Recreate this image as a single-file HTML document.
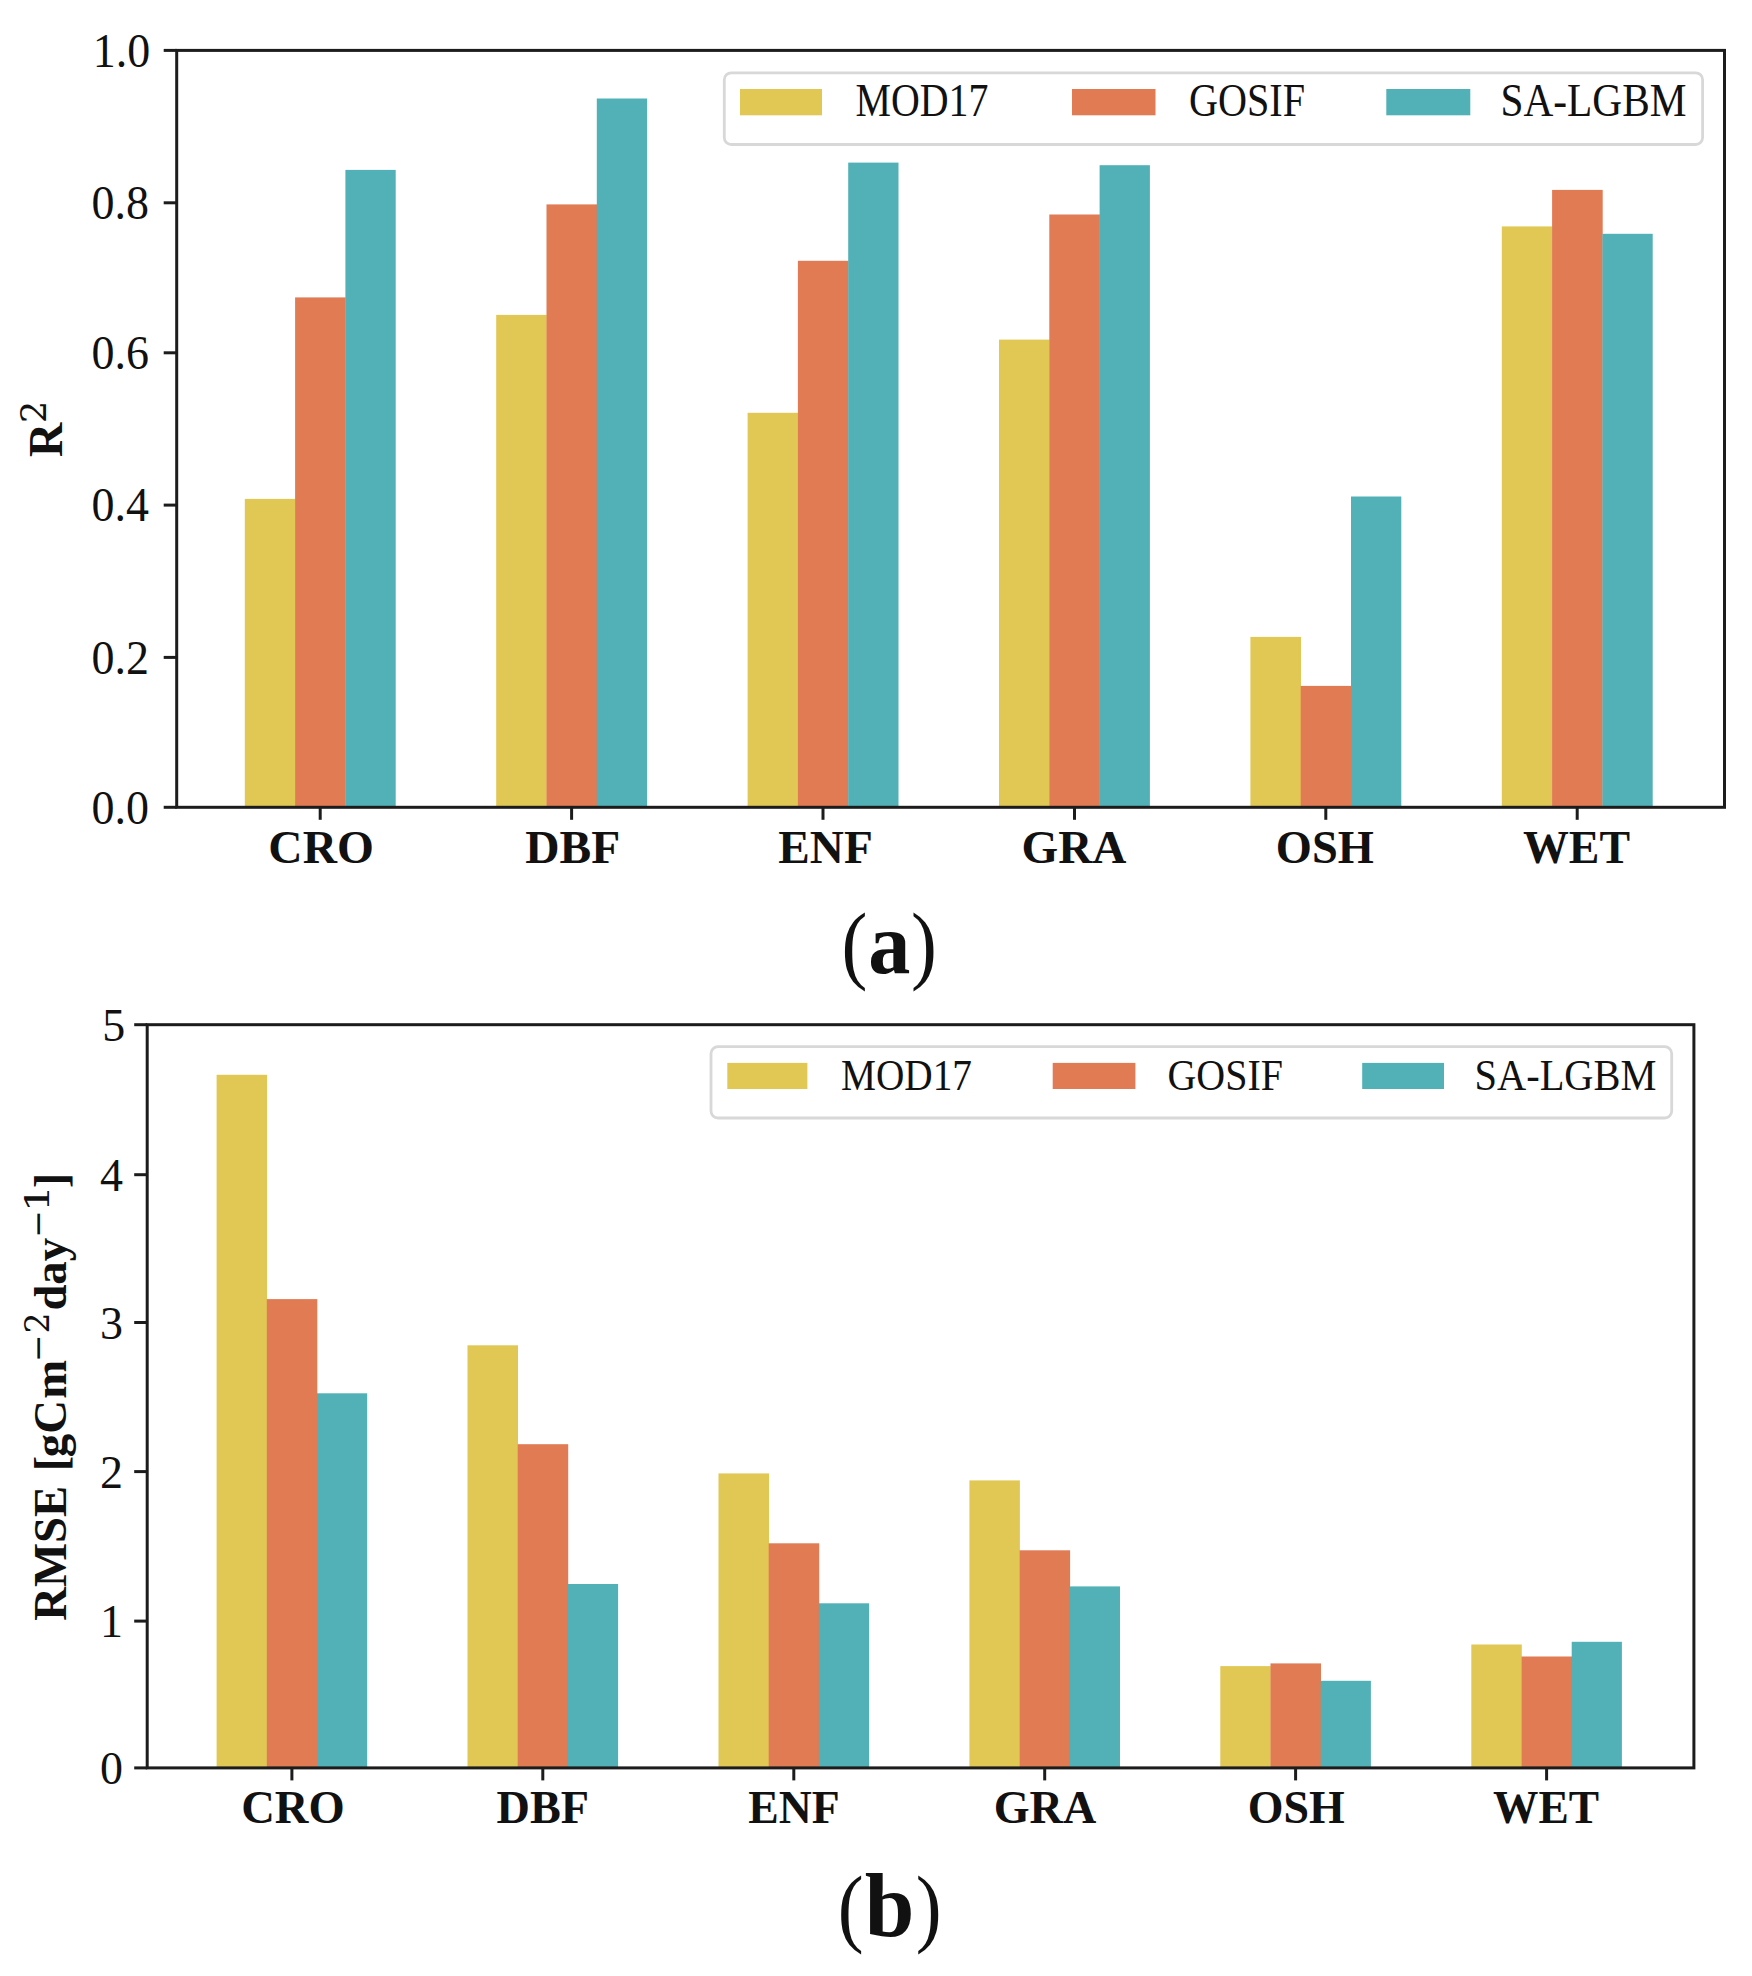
<!DOCTYPE html>
<html lang="en"><head><meta charset="utf-8"><title>Model comparison by vegetation type</title>
<style>
html,body{margin:0;padding:0;background:#fff}
body{width:1752px;height:1976px;overflow:hidden}
svg{display:block}
text{font-family:"Liberation Serif","Times New Roman",Times,serif;fill:#111}
.tk{font-size:47.5px}
.bl{font-size:46.5px;font-weight:bold}
.lg{font-size:41px}
.ln{stroke:#1c1c1c;stroke-width:3;fill:none;stroke-linecap:butt}
</style></head><body>
<svg width="1752" height="1976" viewBox="0 0 1752 1976">
<rect x="0" y="0" width="1752" height="1976" fill="#fff"/>

<rect x="244.8" y="498.9" width="50.6" height="308.4" fill="#e1c855"/>
<rect x="295.1" y="297.4" width="50.6" height="509.9" fill="#e07b54"/>
<rect x="345.4" y="169.9" width="50.3" height="637.4" fill="#51b1b7"/>
<rect x="496.2" y="314.9" width="50.6" height="492.4" fill="#e1c855"/>
<rect x="546.5" y="204.4" width="50.6" height="602.9" fill="#e07b54"/>
<rect x="596.8" y="98.5" width="50.3" height="708.8" fill="#51b1b7"/>
<rect x="747.6" y="412.8" width="50.6" height="394.5" fill="#e1c855"/>
<rect x="797.9" y="260.8" width="50.6" height="546.5" fill="#e07b54"/>
<rect x="848.2" y="162.6" width="50.3" height="644.7" fill="#51b1b7"/>
<rect x="999.0" y="339.6" width="50.6" height="467.7" fill="#e1c855"/>
<rect x="1049.3" y="214.5" width="50.6" height="592.8" fill="#e07b54"/>
<rect x="1099.6" y="165.2" width="50.3" height="642.1" fill="#51b1b7"/>
<rect x="1250.4" y="636.9" width="50.6" height="170.4" fill="#e1c855"/>
<rect x="1300.7" y="685.9" width="50.6" height="121.4" fill="#e07b54"/>
<rect x="1351.0" y="496.5" width="50.3" height="310.8" fill="#51b1b7"/>
<rect x="1501.8" y="226.4" width="50.6" height="580.9" fill="#e1c855"/>
<rect x="1552.1" y="189.9" width="50.6" height="617.4" fill="#e07b54"/>
<rect x="1602.4" y="233.8" width="50.3" height="573.5" fill="#51b1b7"/>
<rect class="ln" x="176.7" y="50.4" width="1547.8" height="756.9"/>
<line class="ln" x1="163.7" y1="807.3" x2="176.7" y2="807.3"/>
<text style="font-size:48.3px" text-anchor="end" x="149.1" y="823.6" textLength="57.5" lengthAdjust="spacingAndGlyphs">0.0</text>
<line class="ln" x1="163.7" y1="657.4" x2="176.7" y2="657.4"/>
<text style="font-size:48.3px" text-anchor="end" x="149.1" y="673.7" textLength="57.5" lengthAdjust="spacingAndGlyphs">0.2</text>
<line class="ln" x1="163.7" y1="505.1" x2="176.7" y2="505.1"/>
<text style="font-size:48.3px" text-anchor="end" x="149.1" y="521.4" textLength="57.5" lengthAdjust="spacingAndGlyphs">0.4</text>
<line class="ln" x1="163.7" y1="352.8" x2="176.7" y2="352.8"/>
<text style="font-size:48.3px" text-anchor="end" x="149.1" y="369.1" textLength="57.5" lengthAdjust="spacingAndGlyphs">0.6</text>
<line class="ln" x1="163.7" y1="202.8" x2="176.7" y2="202.8"/>
<text style="font-size:48.3px" text-anchor="end" x="149.1" y="219.1" textLength="57.5" lengthAdjust="spacingAndGlyphs">0.8</text>
<line class="ln" x1="163.7" y1="50.4" x2="176.7" y2="50.4"/>
<text style="font-size:48.3px" text-anchor="end" x="150.3" y="66.7" textLength="57.5" lengthAdjust="spacingAndGlyphs">1.0</text>
<line class="ln" x1="320.2" y1="807.3" x2="320.2" y2="819.8"/>
<text class="bl" text-anchor="middle" x="321.1" y="863.2" textLength="105.5" lengthAdjust="spacingAndGlyphs">CRO</text>
<line class="ln" x1="571.6" y1="807.3" x2="571.6" y2="819.8"/>
<text class="bl" text-anchor="middle" x="572.8" y="863.2" textLength="95.0" lengthAdjust="spacingAndGlyphs">DBF</text>
<line class="ln" x1="823.0" y1="807.3" x2="823.0" y2="819.8"/>
<text class="bl" text-anchor="middle" x="825.6" y="863.2" textLength="94.5" lengthAdjust="spacingAndGlyphs">ENF</text>
<line class="ln" x1="1074.5" y1="807.3" x2="1074.5" y2="819.8"/>
<text class="bl" text-anchor="middle" x="1073.9" y="863.2" textLength="105.0" lengthAdjust="spacingAndGlyphs">GRA</text>
<line class="ln" x1="1325.8" y1="807.3" x2="1325.8" y2="819.8"/>
<text class="bl" text-anchor="middle" x="1324.8" y="863.2" textLength="98.0" lengthAdjust="spacingAndGlyphs">OSH</text>
<line class="ln" x1="1577.2" y1="807.3" x2="1577.2" y2="819.8"/>
<text class="bl" text-anchor="middle" x="1576.5" y="863.2" textLength="107.0" lengthAdjust="spacingAndGlyphs">WET</text>
<rect x="724.3" y="72.8" width="978.3" height="71.7" rx="7" ry="7" fill="#fff" fill-opacity="0.8" stroke="#d8d8d8" stroke-width="2.8"/>
<rect x="740.0" y="89.0" width="82.0" height="26.3" fill="#e1c855"/>
<rect x="1072.0" y="89.0" width="83.5" height="26.3" fill="#e07b54"/>
<rect x="1386.3" y="89.0" width="84.0" height="26.3" fill="#51b1b7"/>
<text class="lg" style="font-size:46px" x="855.5" y="115.9" textLength="133.0" lengthAdjust="spacingAndGlyphs">MOD17</text>
<text class="lg" style="font-size:46px" x="1189.0" y="115.9" textLength="116.0" lengthAdjust="spacingAndGlyphs">GOSIF</text>
<text class="lg" style="font-size:46px" x="1500.5" y="115.9" textLength="186.0" lengthAdjust="spacingAndGlyphs">SA-LGBM</text>
<g transform="translate(62.3,457) rotate(-90)"><text x="0" y="0" style="font-size:47.5px;font-weight:bold">R</text><text x="34" y="-16.5" style="font-size:35px;font-family:&quot;DejaVu Serif&quot;,serif">2</text></g>
<text x="841.6" y="972.7" style="font-size:86.3px" textLength="25.9" lengthAdjust="spacingAndGlyphs">(</text>
<text x="868.2" y="973" style="font-size:88px;font-weight:bold" textLength="42.1" lengthAdjust="spacingAndGlyphs">a</text>
<text x="911" y="972.7" style="font-size:86.3px" textLength="25.9" lengthAdjust="spacingAndGlyphs">)</text>
<rect x="216.6" y="1074.8" width="50.5" height="693.1" fill="#e1c855"/>
<rect x="266.8" y="1299.1" width="50.5" height="468.8" fill="#e07b54"/>
<rect x="317.0" y="1393.3" width="50.2" height="374.6" fill="#51b1b7"/>
<rect x="467.5" y="1345.3" width="50.5" height="422.6" fill="#e1c855"/>
<rect x="517.7" y="1444.2" width="50.5" height="323.7" fill="#e07b54"/>
<rect x="567.9" y="1584.0" width="50.2" height="183.9" fill="#51b1b7"/>
<rect x="718.5" y="1473.4" width="50.5" height="294.5" fill="#e1c855"/>
<rect x="768.7" y="1543.3" width="50.5" height="224.6" fill="#e07b54"/>
<rect x="818.9" y="1603.3" width="50.2" height="164.6" fill="#51b1b7"/>
<rect x="969.4" y="1480.4" width="50.5" height="287.5" fill="#e1c855"/>
<rect x="1019.6" y="1550.3" width="50.5" height="217.6" fill="#e07b54"/>
<rect x="1069.8" y="1586.4" width="50.2" height="181.5" fill="#51b1b7"/>
<rect x="1220.3" y="1666.1" width="50.5" height="101.8" fill="#e1c855"/>
<rect x="1270.5" y="1663.4" width="50.5" height="104.5" fill="#e07b54"/>
<rect x="1320.7" y="1680.8" width="50.2" height="87.1" fill="#51b1b7"/>
<rect x="1471.3" y="1644.5" width="50.5" height="123.4" fill="#e1c855"/>
<rect x="1521.5" y="1656.5" width="50.5" height="111.4" fill="#e07b54"/>
<rect x="1571.7" y="1641.8" width="50.2" height="126.1" fill="#51b1b7"/>
<rect class="ln" x="147.2" y="1024.7" width="1546.7" height="743.2"/>
<line class="ln" x1="134.2" y1="1767.9" x2="147.2" y2="1767.9"/>
<text style="font-size:47.2px" text-anchor="end" x="123.0" y="1784.2" textLength="23.0" lengthAdjust="spacingAndGlyphs">0</text>
<line class="ln" x1="134.2" y1="1621.1" x2="147.2" y2="1621.1"/>
<text style="font-size:47.2px" text-anchor="end" x="123.0" y="1637.4" textLength="23.0" lengthAdjust="spacingAndGlyphs">1</text>
<line class="ln" x1="134.2" y1="1471.6" x2="147.2" y2="1471.6"/>
<text style="font-size:47.2px" text-anchor="end" x="123.0" y="1487.9" textLength="23.0" lengthAdjust="spacingAndGlyphs">2</text>
<line class="ln" x1="134.2" y1="1322.5" x2="147.2" y2="1322.5"/>
<text style="font-size:47.2px" text-anchor="end" x="123.0" y="1338.8" textLength="23.0" lengthAdjust="spacingAndGlyphs">3</text>
<line class="ln" x1="134.2" y1="1174.7" x2="147.2" y2="1174.7"/>
<text style="font-size:47.2px" text-anchor="end" x="123.0" y="1191.0" textLength="23.0" lengthAdjust="spacingAndGlyphs">4</text>
<line class="ln" x1="134.2" y1="1024.7" x2="147.2" y2="1024.7"/>
<text style="font-size:47.2px" text-anchor="end" x="125.3" y="1041.0" textLength="23.0" lengthAdjust="spacingAndGlyphs">5</text>
<line class="ln" x1="291.9" y1="1767.9" x2="291.9" y2="1780.4"/>
<text class="bl" text-anchor="middle" x="292.9" y="1822.5" textLength="103.5" lengthAdjust="spacingAndGlyphs">CRO</text>
<line class="ln" x1="542.8" y1="1767.9" x2="542.8" y2="1780.4"/>
<text class="bl" text-anchor="middle" x="542.8" y="1822.5" textLength="92.5" lengthAdjust="spacingAndGlyphs">DBF</text>
<line class="ln" x1="793.8" y1="1767.9" x2="793.8" y2="1780.4"/>
<text class="bl" text-anchor="middle" x="794.0" y="1822.5" textLength="91.5" lengthAdjust="spacingAndGlyphs">ENF</text>
<line class="ln" x1="1044.7" y1="1767.9" x2="1044.7" y2="1780.4"/>
<text class="bl" text-anchor="middle" x="1045.0" y="1822.5" textLength="102.5" lengthAdjust="spacingAndGlyphs">GRA</text>
<line class="ln" x1="1295.6" y1="1767.9" x2="1295.6" y2="1780.4"/>
<text class="bl" text-anchor="middle" x="1296.2" y="1822.5" textLength="97.0" lengthAdjust="spacingAndGlyphs">OSH</text>
<line class="ln" x1="1546.6" y1="1767.9" x2="1546.6" y2="1780.4"/>
<text class="bl" text-anchor="middle" x="1546.1" y="1822.5" textLength="106.0" lengthAdjust="spacingAndGlyphs">WET</text>
<rect x="711.0" y="1046.6" width="960.7" height="71.4" rx="7" ry="7" fill="#fff" fill-opacity="0.8" stroke="#d8d8d8" stroke-width="2.8"/>
<rect x="727.3" y="1062.9" width="80.1" height="26.1" fill="#e1c855"/>
<rect x="1052.7" y="1062.9" width="82.7" height="26.1" fill="#e07b54"/>
<rect x="1362.2" y="1062.9" width="81.8" height="26.1" fill="#51b1b7"/>
<text class="lg" style="font-size:45px" x="841.0" y="1089.7" textLength="131.0" lengthAdjust="spacingAndGlyphs">MOD17</text>
<text class="lg" style="font-size:45px" x="1167.5" y="1089.7" textLength="115.5" lengthAdjust="spacingAndGlyphs">GOSIF</text>
<text class="lg" style="font-size:45px" x="1474.5" y="1089.7" textLength="182.0" lengthAdjust="spacingAndGlyphs">SA-LGBM</text>
<g transform="translate(66.3,1620) rotate(-90)">
<text x="-0.8" y="0.0" style="font-size:46.7px;font-weight:bold">RMSE</text>
<text x="148.8" y="0.0" style="font-size:46.7px;font-weight:bold">[</text>
<text x="162.7" y="0.0" style="font-size:46.7px;font-weight:bold">g</text>
<text x="186.3" y="0.0" style="font-size:46.7px;font-weight:bold">C</text>
<text x="221.3" y="0.0" style="font-size:46.7px;font-weight:bold">m</text>
<text x="258.0" y="-17.0" style="font-size:33px;font-weight:normal;font-family:&quot;DejaVu Serif&quot;,serif">−</text>
<text x="286.5" y="-17.0" style="font-size:33px;font-weight:normal;font-family:&quot;DejaVu Serif&quot;,serif">2</text>
<text x="309.4" y="0.0" style="font-size:46.7px;font-weight:bold">day</text>
<text x="382.2" y="-17.0" style="font-size:33px;font-weight:normal;font-family:&quot;DejaVu Serif&quot;,serif">−</text>
<text x="407.7" y="-17.0" style="font-size:33px;font-weight:normal;font-family:&quot;DejaVu Serif&quot;,serif" textLength="27.5" lengthAdjust="spacingAndGlyphs">1</text>
<text x="431.8" y="0.0" style="font-size:46.7px;font-weight:bold">]</text>
</g>
<text x="837.8" y="1935.7" style="font-size:86.3px" textLength="25.9" lengthAdjust="spacingAndGlyphs">(</text>
<text x="864.8" y="1936" style="font-size:92px;font-weight:bold" textLength="49.6" lengthAdjust="spacingAndGlyphs">b</text>
<text x="915.8" y="1935.7" style="font-size:86.3px" textLength="25.9" lengthAdjust="spacingAndGlyphs">)</text>
</svg></body></html>
